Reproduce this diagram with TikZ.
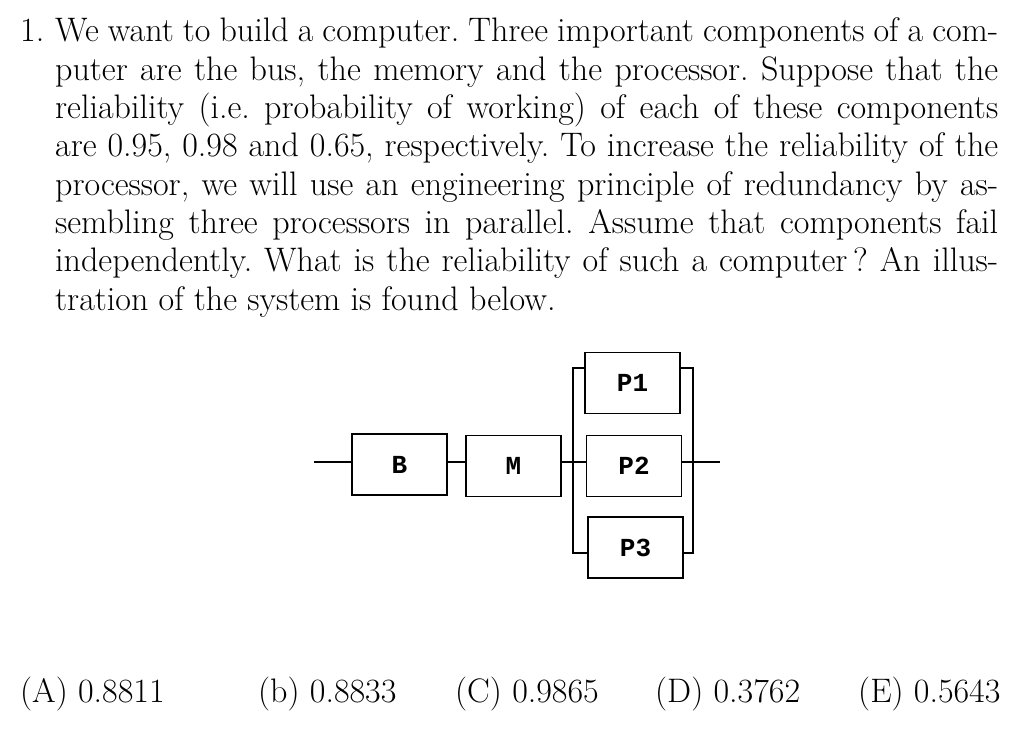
\documentclass[tikz,border=0pt]{standalone}
\usepackage{fontspec}
\newfontfamily\mono{Liberation Mono}
\frenchspacing
\begin{document}
\begin{tikzpicture}[x=1pt,y=-1pt,
  box/.style={draw,line width=1.3pt,minimum width=95pt,minimum height=61pt,inner sep=0pt,font=\mono\bfseries\fontsize{26}{26}\selectfont},
  wire/.style={line width=1.3pt},
  txt/.style={anchor=base west,inner sep=0pt,font=\fontsize{34}{38.3}\selectfont},
  ans/.style={anchor=base west,inner sep=0pt,font=\fontsize{34}{38.3}\selectfont}]
\useasboundingbox (0,0) rectangle (1024,738);
\node[txt] (num) at (20,42) {1.};
\node[txt,text width=943pt,align=justify] (q) at (55,42) {We want to build a computer. Three important components of a com-\linebreak
puter are the bus, the memory and the processor. Suppose that the\linebreak
reliability (i.e.\ probability of working) of each of these components\linebreak
are 0.95, 0.98 and 0.65, respectively. To increase the reliability of the\linebreak
processor, we will use an engineering principle of redundancy by as-\linebreak
sembling three processors in parallel. Assume that components fail\linebreak
independently. What is the reliability of such a computer\,? An illus-\linebreak
tration of the system is found below.};
\node[box] (B) at (399.5,464.5) {B};
\node[box] (M) at (513.5,466) {M};
\node[box] (P1) at (632.5,383) {P1};
\node[box] (P2) at (634,466) {P2};
\node[box] (P3) at (635.5,547.5) {P3};
\coordinate (in) at (314,462);
\coordinate (out) at (720,462);
\coordinate (L) at (573,462);
\coordinate (R) at (693,462);
\draw[wire] (in) -- (B.west |- in);
\draw[wire] (B.east |- in) -- (M.west |- in);
\draw[wire] (M.east |- in) -- (P2.west |- in);
\draw[wire] (P2.east |- in) -- (out);
\draw[wire] (P1.west |- 0,368) -| (L) |- (P3.west |- 0,553);
\draw[wire] (P1.east |- 0,368) -| (R) |- (P3.east |- 0,553);
\begin{scope}[every node/.style={ans}]
\node (a) at (20,702) {(A) 0.8811};
\node (b) at (258,702) {(b) 0.8833};
\node (c) at (455,702) {(C) 0.9865};
\node (d) at (655,702) {(D) 0.3762};
\node (e) at (858,702) {(E) 0.5643};
\end{scope}
\end{tikzpicture}
\end{document}
